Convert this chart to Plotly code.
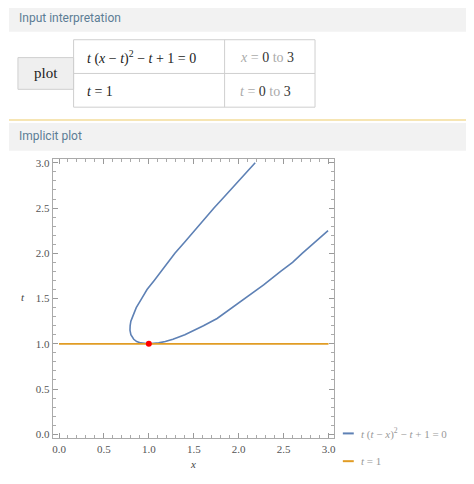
import plotly.graph_objects as go

W, H = 466, 476
OFF = 8  # page body margin

upper_x = [1.0, 0.969, 0.91, 0.865, 0.832, 0.80, 0.79, 0.792, 0.80, 0.82, 0.86, 0.92, 0.98, 1.06, 1.17, 1.29, 1.40, 1.505, 1.61, 1.725, 1.84, 1.952, 2.07, 2.184]
upper_t = [1.0, 1.001, 1.01, 1.025, 1.05, 1.10, 1.15, 1.20, 1.25, 1.30, 1.40, 1.50, 1.60, 1.70, 1.85, 2.00, 2.125, 2.25, 2.375, 2.50, 2.625, 2.75, 2.875, 3.00]
lower_x = [1.0, 1.033, 1.11, 1.183, 1.268, 1.401, 1.512, 1.608, 1.76, 1.859, 2.077, 2.278, 2.467, 2.60, 2.707, 2.847, 2.995]
lower_t = [1.0, 1.001, 1.01, 1.025, 1.05, 1.10, 1.15, 1.20, 1.28, 1.35, 1.50, 1.65, 1.80, 1.90, 2.00, 2.12, 2.25]
hline_x = [0.0, 3.0]
hline_t = [1.0, 1.0]
point_x = [1.0]
point_t = [1.0]

BLUE = "#5e81b5"
ORANGE = "#e19c24"
HEAD = "#5c7d95"


def px(x):
    return (x - OFF) / W


def py(y):
    return 1 - (y - OFF) / H


fig = go.Figure()
fig.add_trace(go.Scatter(x=upper_x, y=upper_t, mode="lines", line=dict(color=BLUE, width=1.6)))
fig.add_trace(go.Scatter(x=lower_x, y=lower_t, mode="lines", line=dict(color=BLUE, width=1.6)))
fig.add_trace(go.Scatter(x=hline_x, y=hline_t, mode="lines", line=dict(color=ORANGE, width=1.8)))
fig.add_trace(go.Scatter(x=point_x, y=point_t, mode="markers", marker=dict(color="#ff0000", size=6)))

shapes = []
ann = []


def rect(x0, y0, x1, y1, fill=None, line=None):
    shapes.append(dict(type="rect", xref="paper", yref="paper", x0=px(x0), x1=px(x1), y0=py(y1), y1=py(y0),
                       fillcolor=fill or "rgba(0,0,0,0)", line=dict(color=line or "rgba(0,0,0,0)", width=1),
                       layer="below"))


def seg(x0, y0, x1, y1, color, width=1):
    shapes.append(dict(type="line", xref="paper", yref="paper", x0=px(x0), x1=px(x1), y0=py(y0), y1=py(y1),
                       line=dict(color=color, width=width)))


def text(x, y, s, size=13, color="#333", family="Liberation Serif", anchor="left"):
    ann.append(dict(xref="paper", yref="paper", x=px(x), y=py(y), text=s, showarrow=False, xanchor=anchor,
                    yanchor="middle", font=dict(size=size, color=color, family=family)))


# header bands
rect(OFF, 2, 482, 30, fill="#f2f2f2")
rect(OFF, 122, 482, 150, fill="#f2f2f2")
seg(OFF, 119, 482, 119, "#f3dd9a", 1.5)
text(16, 16, "Input interpretation", 12, HEAD, "Roboto")
text(16, 135, "Implicit plot", 12, HEAD, "Roboto")

# table
rect(17, 56, 73, 88, fill="#efefef", line="#cfcfcf")
rect(73, 38, 316, 106, line="#cfcfcf")
seg(225, 38, 225, 106, "#cfcfcf")
seg(73, 72, 316, 72, "#cfcfcf")
text(45, 72, "plot", 15, "#222", anchor="center")
text(84, 56, "<i>t</i> (<i>x</i> − <i>t</i>)<sup>2</sup> − <i>t</i> + 1 = 0", 14, "#222")
text(84, 90, "<i>t</i> = 1", 14, "#222")
text(238, 56, "<span style='color:#aaa'><i>x</i> =</span> 0 <span style='color:#aaa'>to</span> 3", 14, "#333")
text(238, 90, "<span style='color:#aaa'><i>t</i> =</span> 0 <span style='color:#aaa'>to</span> 3", 14, "#333")

# legend
seg(344, 435, 355, 435, BLUE, 2)
text(360, 435, "<i>t</i> (<i>t</i> − <i>x</i>)<sup>2</sup> − <i>t</i> + 1 = 0", 11, "#999")
seg(344, 463, 355, 463, ORANGE, 2)
text(360, 463, "<i>t</i> = 1", 11, "#999")

# axis labels
text(193, 466, "<i>x</i>", 11, "#444", anchor="center")
text(22, 297, "<i>t</i>", 11, "#444", anchor="center")

axis_common = dict(showgrid=False, zeroline=False, showline=True, linecolor="#aaa", mirror="allticks",
                   ticks="inside", ticklen=5, tickcolor="#999", dtick=0.5, tickformat=".1f",
                   tickfont=dict(family="Liberation Serif", size=11, color="#555"),
                   minor=dict(ticks="inside", ticklen=3, dtick=0.1, tickcolor="#aaa"))

fig.update_layout(
    width=W, height=H, margin=dict(l=0, r=0, t=0, b=0), showlegend=False,
    paper_bgcolor="white", plot_bgcolor="white",
    xaxis=dict(domain=[px(52), px(335)], range=[-0.07, 3.06], tick0=0, **axis_common),
    yaxis=dict(domain=[py(440), py(158)], range=[-0.045, 3.045], tick0=0, **axis_common),
    shapes=shapes, annotations=ann,
)

fig.write_html("out.html")
